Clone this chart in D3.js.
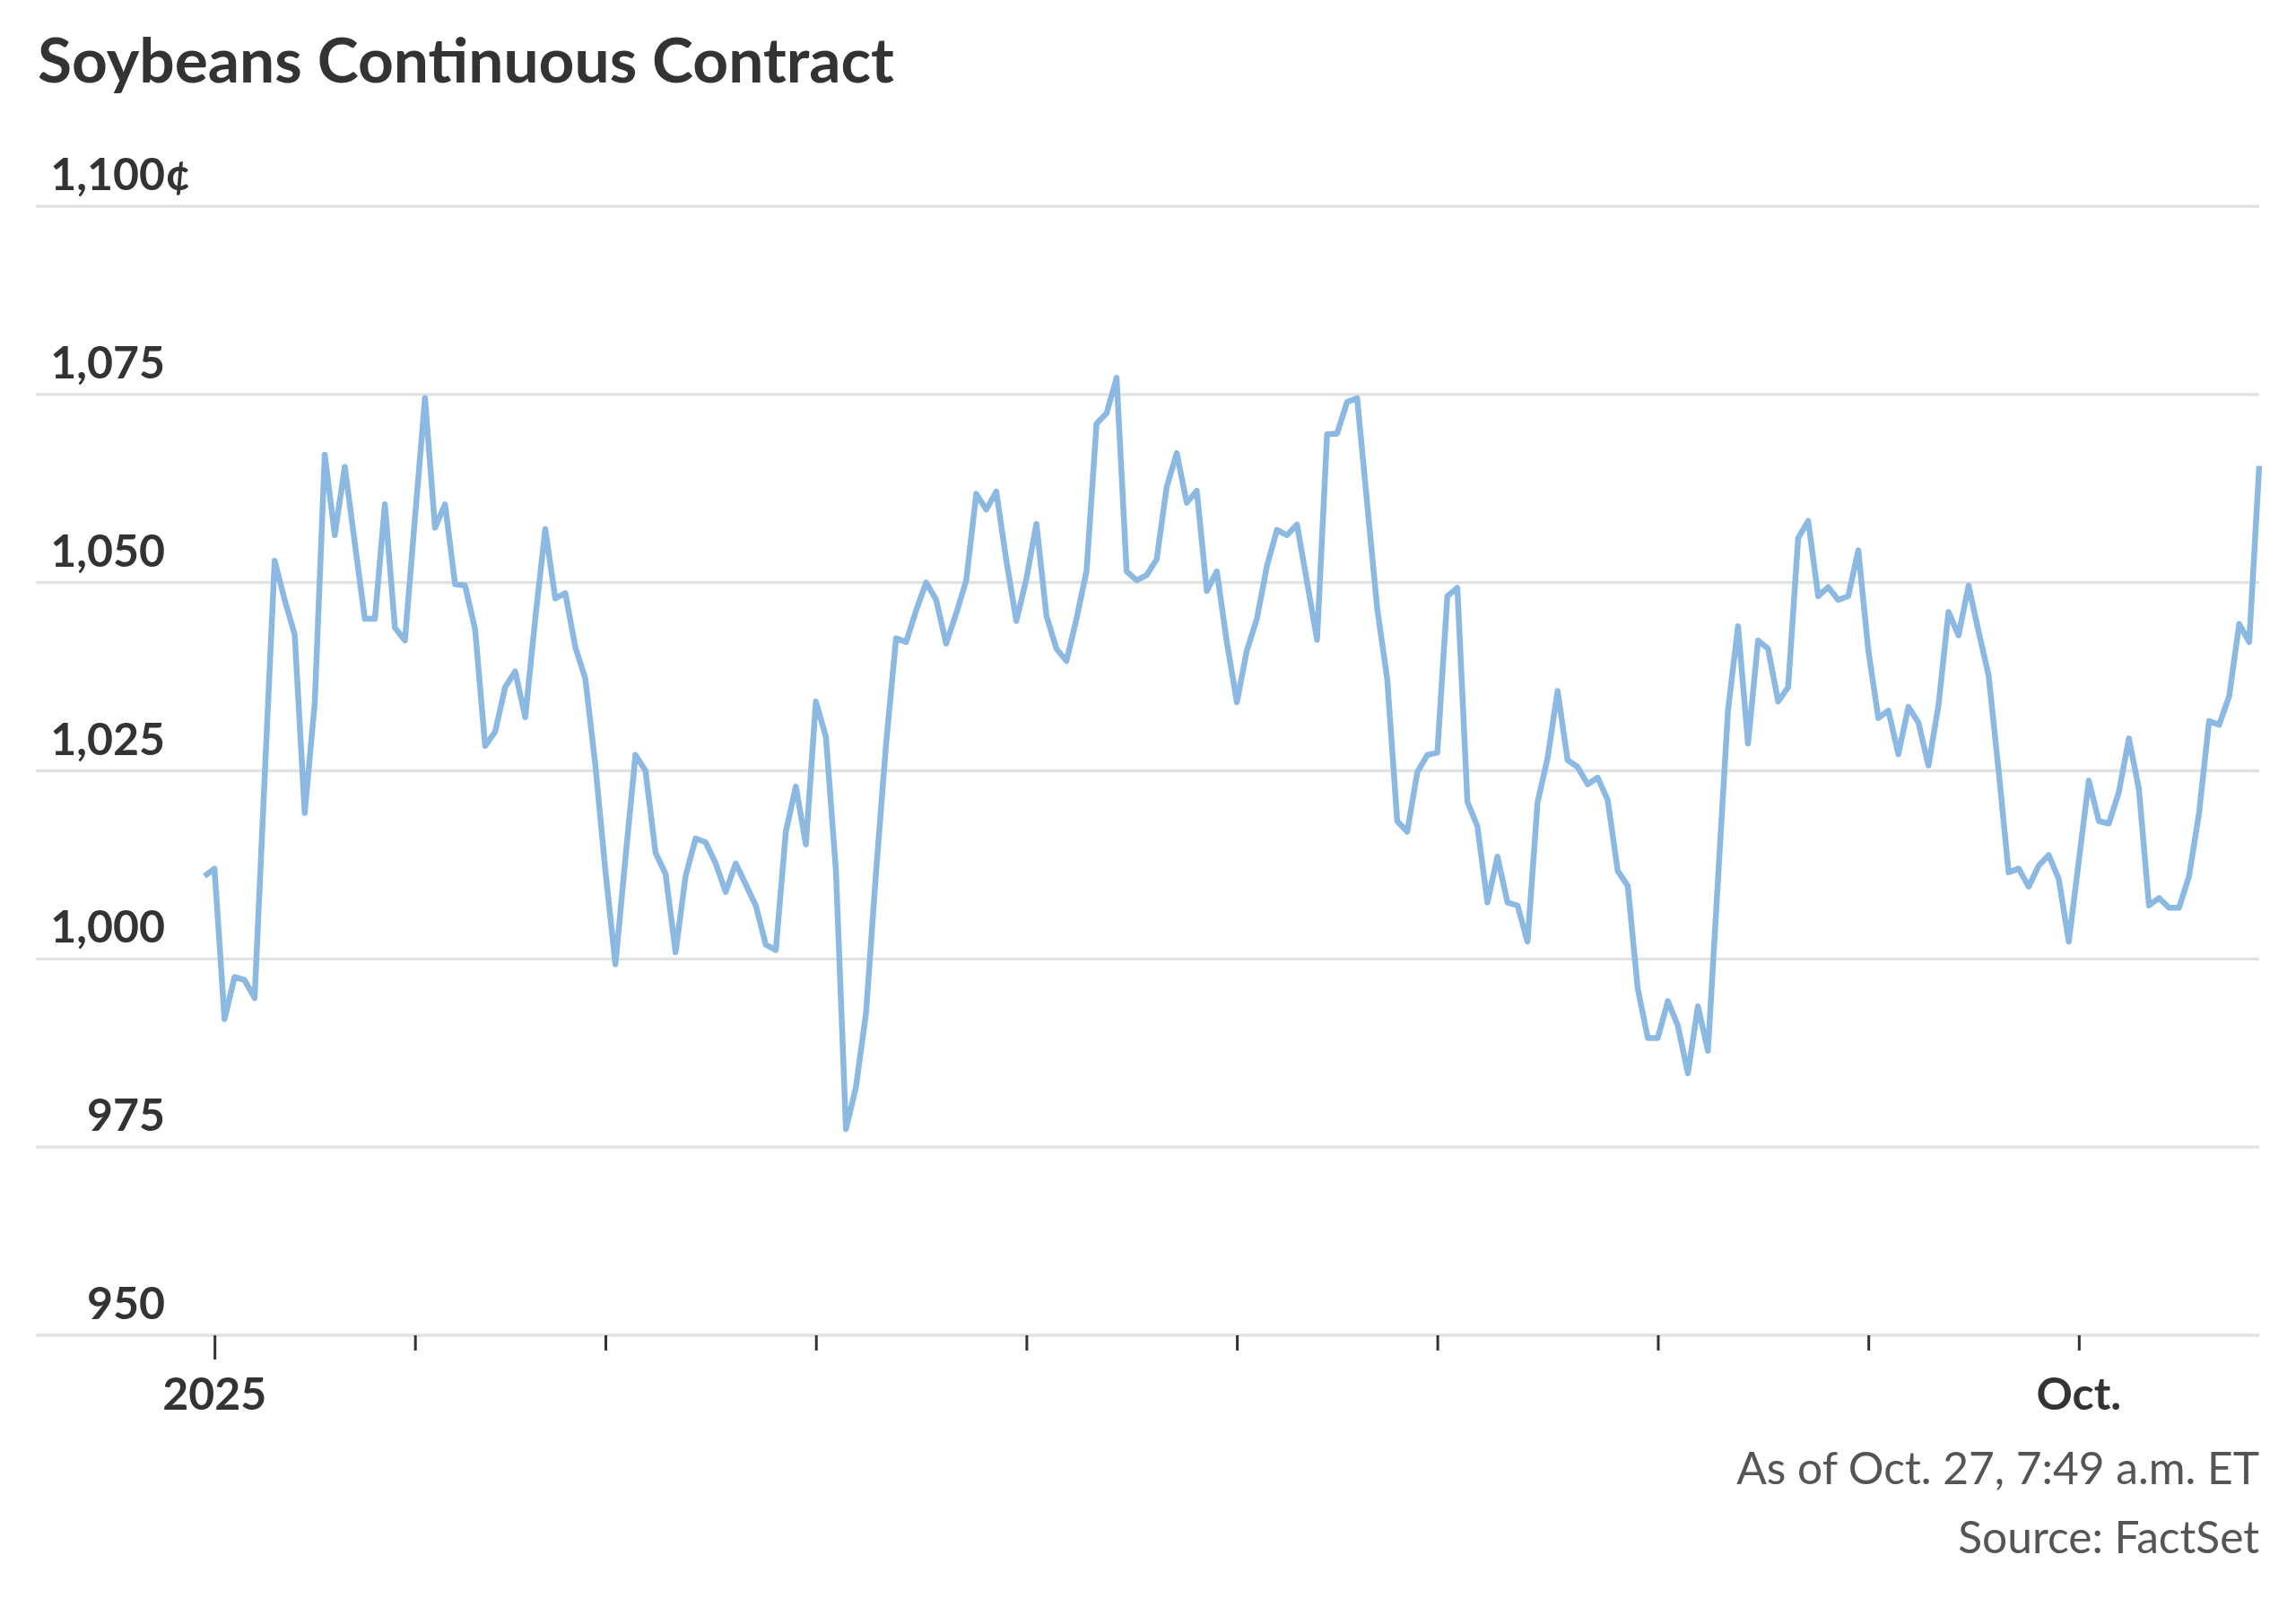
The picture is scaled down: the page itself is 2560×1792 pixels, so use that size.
<!DOCTYPE html>
<html>
<head>
<meta charset="utf-8">
<script src="https://cdn.jsdelivr.net/npm/d3@7"></script>
<style>
  html, body { margin: 0; padding: 0; background: #fff; }
  svg { display: block; }
  text { font-family: Lato, "Noto Sans", sans-serif; }
</style>
</head>
<body>
<script>
// ---------- DATA ----------
const titleText = "Soybeans Continuous Contract";
const startDate = "2024-12-31";
const endDate = "2025-10-27";
const marketHolidays = ["2025-01-01","2025-01-09","2025-01-20","2025-02-17","2025-04-18",
  "2025-05-26","2025-06-19","2025-07-04","2025-09-01"];
// settle prices, cents per bushel, one per trading day
const prices = [
  1011.0,1012.0,992.0,997.6,997.2,994.8,1024.0,1052.9,1047.7,1043.1,
  1019.4,1034.0,1067.0,1056.3,1065.4,1055.2,1045.2,1045.2,1060.4,1044.0,
  1042.3,1058.6,1074.5,1057.3,1060.4,1049.8,1049.6,1043.8,1028.3,1030.2,
  1036.1,1038.2,1032.1,1045.2,1057.1,1047.9,1048.6,1041.4,1037.2,1025.7,
  1011.7,999.3,1013.4,1027.1,1025.0,1014.1,1011.3,1000.9,1011.0,1016.0,
  1015.5,1012.7,1008.9,1012.7,1009.9,1007.1,1001.9,1001.2,1016.9,1022.9,
  1015.2,1034.2,1029.5,1011.7,977.4,983.0,992.8,1011.5,1028.5,1042.6,
  1042.1,1046.3,1050.0,1047.7,1041.9,1045.9,1050.3,1061.8,1059.7,1062.1,
  1052.9,1044.9,1050.5,1057.8,1045.6,1041.2,1039.6,1045.2,1051.5,1071.1,
  1072.5,1077.2,1051.5,1050.3,1051.0,1053.1,1062.7,1067.2,1060.6,1062.2,
  1048.9,1051.5,1042.1,1034.1,1041.0,1045.2,1052.2,1057.0,1056.3,1057.7,
  1050.1,1042.4,1069.7,1069.8,1074.0,1074.5,1060.5,1046.6,1037.2,1018.3,
  1016.9,1024.8,1027.1,1027.4,1048.2,1049.3,1020.9,1017.6,1007.5,1013.6,
  1007.5,1007.1,1002.3,1020.8,1026.7,1035.6,1026.4,1025.5,1023.2,1024.1,
  1021.1,1011.7,1009.7,996.0,989.5,989.5,994.4,991.1,984.8,993.7,
  987.8,1010.5,1033.0,1044.2,1028.6,1042.3,1041.2,1034.2,1036.1,1055.9,
  1058.2,1048.2,1049.4,1047.7,1048.2,1054.3,1041.0,1032.0,1033.0,1027.2,
  1033.5,1031.4,1025.7,1033.7,1046.1,1043.0,1049.6,1043.5,1037.7,1025.0,
  1011.5,1012.0,1009.6,1012.4,1013.8,1010.6,1002.3,1013.0,1023.7,1018.3,
  1018.0,1022.2,1029.3,1022.5,1007.1,1008.1,1006.8,1006.8,1011.0,1019.4,
  1031.6,1031.1,1034.9,1044.5,1042.1,1065.5
];
const yTicks = [950, 975, 1000, 1025, 1050, 1075, 1100];
const xTickLabels = {"2025-01": "2025", "2025-10": "Oct."};
const footNotes = ["As of Oct. 27, 7:49 a.m. ET", "Source: FactSet"];

// ---------- TRADING CALENDAR ----------
const parse = d3.utcParse("%Y-%m-%d");
const fmtDay = d3.utcFormat("%Y-%m-%d");
const fmtMonth = d3.utcFormat("%Y-%m");
const holidaySet = new Set(marketHolidays);
const dates = d3.utcDays(parse(startDate), d3.utcDay.offset(parse(endDate), 1))
  .filter(d => d.getUTCDay() !== 0 && d.getUTCDay() !== 6 && !holidaySet.has(fmtDay(d)));
const series = dates.map((d, i) => ({date: d, idx: i, value: prices[i]})).filter(d => d.value != null);

// ---------- LAYOUT ----------
const W = 2560, H = 1792;
const plotLeft = 228, plotRight = 2519, gridLeft = 40;
const yTop = 230, yBottom = 1489;

const svg = d3.select("body").append("svg").attr("width", W).attr("height", H);
svg.append("rect").attr("width", W).attr("height", H).attr("fill", "#fff");

const x = d3.scaleLinear().domain([0, dates.length - 1]).range([plotLeft, plotRight]);
const y = d3.scaleLinear().domain([950, 1100]).range([yBottom, yTop]);

function fitWidth(sel, target) {
  const node = sel.node();
  const fs = parseFloat(sel.attr("font-size"));
  const w = node.getComputedTextLength();
  if (w > 0) sel.attr("font-size", fs * target / w);
  return parseFloat(sel.attr("font-size"));
}

// title
const title = svg.append("text").attr("x", 42).attr("y", 92)
  .attr("font-size", 64).attr("font-weight", 700).attr("fill", "#333")
  .text(titleText);
fitWidth(title, 955);

// grid
const gGrid = svg.append("g");
gGrid.selectAll("line").data(yTicks).join("line")
  .attr("x1", gridLeft).attr("x2", plotRight)
  .attr("y1", d => y(d)).attr("y2", d => y(d))
  .attr("stroke", "#e2e2e2").attr("stroke-width", 3.3);

// y labels
const fmt = d3.format(",");
const gY = svg.append("g");
yTicks.forEach(v => {
  gY.append("text").attr("x", 184).attr("y", y(v) - 18)
    .attr("text-anchor", "end").attr("font-size", 50).attr("font-weight", 700)
    .attr("fill", "#333").text(fmt(v));
  if (v === d3.max(yTicks)) {
    gY.append("text").attr("x", 184).attr("y", y(v) - 18)
      .attr("text-anchor", "start").attr("font-size", 50).attr("font-weight", 700)
      .attr("fill", "#333").text("¢");
  }
});

// x axis ticks: first trading day of each month
const monthFirst = [];
const seen = new Set();
dates.forEach((d, i) => {
  const m = fmtMonth(d);
  if (m >= "2025-01" && !seen.has(m)) { seen.add(m); monthFirst.push({i, m}); }
});
const xAxis = d3.axisBottom(x).tickValues(monthFirst.map(d => d.i)).tickSize(17).tickFormat("");
const gX = svg.append("g").attr("transform", `translate(0,${yBottom})`).call(xAxis);
gX.select(".domain").remove();
gX.selectAll(".tick line").attr("stroke", "#333").attr("stroke-width", 3)
  .attr("y2", d => d === monthFirst[0].i ? 27 : 17);
monthFirst.forEach(t => {
  if (xTickLabels[t.m]) {
    svg.append("text").attr("x", x(t.i)).attr("y", 1572)
      .attr("text-anchor", "middle").attr("font-size", 50).attr("font-weight", 700)
      .attr("fill", "#333").text(xTickLabels[t.m]);
  }
});

// line
const line = d3.line().x(d => x(d.idx)).y(d => y(d.value));
svg.append("path").datum(series)
  .attr("d", line).attr("fill", "none")
  .attr("stroke", "#8cb9e2").attr("stroke-width", 6.5)
  .attr("stroke-linejoin", "round");

// footnotes
const f1 = svg.append("text").attr("x", plotRight).attr("y", 1655)
  .attr("text-anchor", "end").attr("font-size", 48).attr("font-weight", 400)
  .attr("fill", "#555").text(footNotes[0]);
const fs = fitWidth(f1, 583);
svg.append("text").attr("x", plotRight).attr("y", 1732)
  .attr("text-anchor", "end").attr("font-size", fs).attr("font-weight", 400)
  .attr("fill", "#555").text(footNotes[1]);
</script>
</body>
</html>
